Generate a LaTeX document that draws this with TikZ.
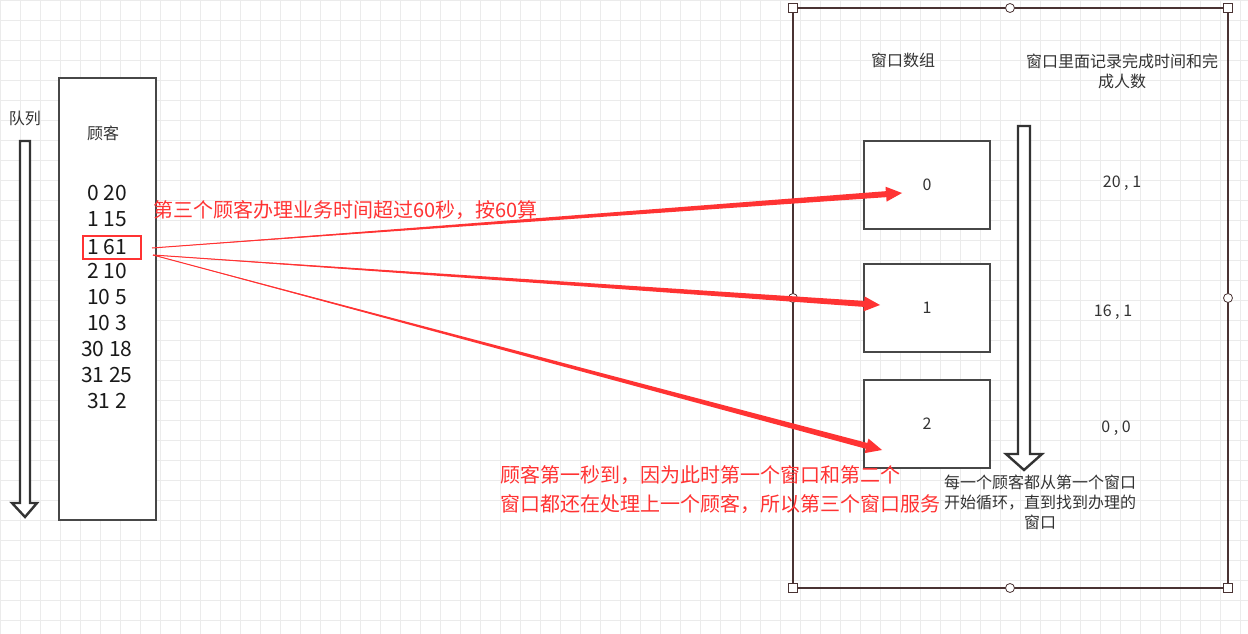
\documentclass[tikz,border=0pt]{standalone}
\usepackage{fontspec}
\setmainfont{Noto Sans CJK SC}
\usetikzlibrary{calc}
\definecolor{rd}{HTML}{FF3333}
\definecolor{frame}{HTML}{4A3333}
\definecolor{gridc}{HTML}{EBEBEB}
\definecolor{txt}{HTML}{333333}
\begin{document}
\begin{tikzpicture}[x=1pt,y=-1pt,
  box/.style={draw=txt!90,line width=2.4pt,fill=white},
  lbl/.style={text=txt,font=\fontsize{16}{20}\selectfont,align=center},
  num/.style={text=black!90,font=\fontsize{21}{26}\selectfont,align=center},
  rtext/.style={text=rd,font=\fontsize{20}{29}\selectfont,align=left,anchor=north west,inner sep=0pt},
  hollow/.style={draw=txt,line width=2.4pt,fill=white,line join=miter},
  handle/.style={draw=frame,fill=white,line width=0.8pt}]
\useasboundingbox (0,0) rectangle (1248,634);
\fill[white] (0,0) rectangle (1248,634);
\foreach \i in {0,20,...,1240} \draw[gridc,line width=0.6pt] (\i,0) -- (\i,634);
\foreach \j in {0,20,...,620} \draw[gridc,line width=0.6pt] (0,\j) -- (1248,\j);
% queue arrow
\draw[hollow] (20,141) -- (30,141) -- (30,503) -- (37,503) -- (25,517) -- (12,503) -- (20,503) -- cycle;
\node[lbl] (ql) at (25,118) {队列};
% customer box
\node[box,minimum width=97pt,minimum height=442pt,anchor=north west] (cust) at (58,77) {};
\node[lbl] (ch) at (103,133) {顾客};
\node[num,anchor=north] (items) at (107,182) {0 20\\1 15\\\phantom{1 61}\\2 10\\10 5\\10 3\\30 18\\31 25\\31 2};
\node[num] (hl) at (107,247) {1 61};
\node[draw=rd,line width=2pt,minimum width=58pt,minimum height=23pt] (red) at (112,247.5) {};
% big frame
\draw[frame,line width=2.2pt] (793,8) rectangle (1228,588);
\foreach \p in {(793,8),(1228,8),(793,588),(1228,588)} \draw[handle] \p ++(-4.5,-4.5) rectangle ++(9,9);
\foreach \p in {(1010,8),(1010,588),(1228,298),(793,298)} \draw[handle] \p circle (4.5);
\node[lbl] (wa) at (903,60) {窗口数组};
\node[lbl] (wr) at (1122,71) {窗口里面记录完成时间和完\\成人数};
\node[box,minimum width=126pt,minimum height=88pt] (w0) at (927,185) {\fontsize{16}{18}\selectfont\color{txt}0};
\node[box,minimum width=126pt,minimum height=88pt] (w1) at (927,308) {\fontsize{16}{18}\selectfont\color{txt}1};
\node[box,minimum width=126pt,minimum height=88pt] (w2) at (927,424) {\fontsize{16}{18}\selectfont\color{txt}2};
\draw[hollow] (1018,126) -- (1030,126) -- (1030,454) -- (1042,454) -- (1024,470) -- (1006,454) -- (1018,454) -- cycle;
\node[lbl] (v0) at (1122,183) {20 , 1};
\node[lbl] (v1) at (1113,312) {16 , 1};
\node[lbl] (v2) at (1116,428) {0 , 0};
\node[lbl,font=\fontsize{16}{20}\selectfont] (note) at (1040,502) {每一个顾客都从第一个窗口\\开始循环，直到找到办理的\\窗口};
% red arrows
\coordinate (s) at (152,248);
\coordinate (s2) at (153,255);
\coordinate (t0) at (902,193);
\coordinate (t1) at (880,305);
\coordinate (t2) at (882,450);
\foreach \a/\t in {s/t0,s2/t1,s2/t2}{
  \coordinate (m) at ($(\t)!16pt!(\a)$);
  \fill[rd] (\a) -- ($(m)!3pt!90:(\a)$) -- ($(m)!7.5pt!90:(\a)$) -- (\t) -- ($(m)!7.5pt!-90:(\a)$) -- ($(m)!3pt!-90:(\a)$) -- cycle;
  \draw[rd,line width=1pt] (\a) -- (m);
}
\node[rtext] (r1) at (153,200) {第三个顾客办理业务时间超过60秒，按60算};
\node[rtext] (r2) at (500,465) {顾客第一秒到，因为此时第一个窗口和第二个\\窗口都还在处理上一个顾客，所以第三个窗口服务};
\end{tikzpicture}
\end{document}
